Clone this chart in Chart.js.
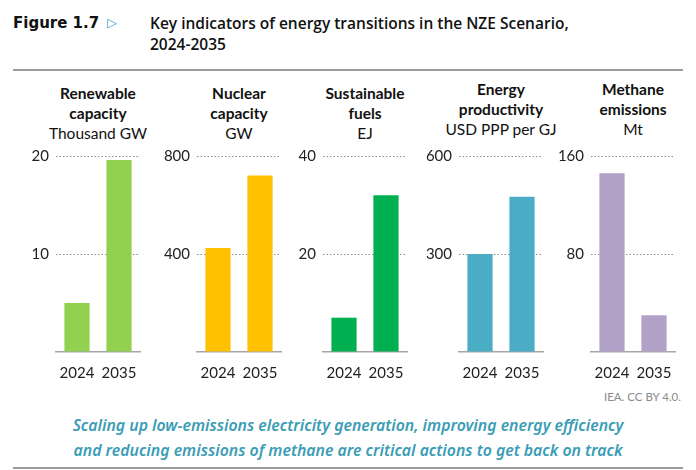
<!DOCTYPE html>
<html>
<head>
<meta charset="utf-8">
<script src="https://cdn.jsdelivr.net/npm/chart.js@4"></script>
<style>
  html, body { margin: 0; padding: 0; background: #fff; }
  body { width: 696px; height: 470px; position: relative; overflow: hidden; font-family: Lato, "Open Sans", sans-serif; }
  .fig { position: absolute; left: 13px; top: 14px; font-family: "DejaVu Sans", sans-serif; font-weight: bold; font-size: 15px; color: #111; }
  .tri { position: absolute; left: 107px; top: 15px; font-size: 13px; color: #3aa0c0; font-family: "DejaVu Sans", sans-serif; }
  .head { position: absolute; left: 150px; top: 13px; font-family: "Open Sans", sans-serif; font-weight: 600; font-size: 15.5px; line-height: 21px; color: #111; }
  .rule { position: absolute; left: 13px; width: 670px; height: 2px; background: #9a9a9a; }
  .ptitle { position: absolute; width: 150px; text-align: center; font-size: 15.5px; line-height: 20px; color: #111; }
  .ptitle b { font-weight: bold; }
  canvas { position: absolute; }
  .src { position: absolute; right: 15px; top: 390px; font-size: 11.5px; color: #8a8a8a; }
  .note { position: absolute; left: 0; width: 696px; top: 413px; text-align: center; font-family: "Noto Sans", sans-serif; font-style: italic; font-weight: 600; font-size: 15.8px; line-height: 25px; color: #3a9db5; }
</style>
</head>
<body>
<div class="fig">Figure 1.7</div>
<div class="tri">&#9655;</div>
<div class="head">Key indicators of energy transitions in the NZE Scenario,<br>2024-2035</div>
<div class="rule" style="top:69px"></div>

<div class="src">IEA. CC BY 4.0.</div>
<div class="note">Scaling up low-emissions electricity generation, improving energy efficiency<br>and reducing emissions of methane are critical actions to get back on track</div>
<div class="rule" style="top:467px"></div>

<script>
// data
const years = ['2024', '2035'];
const panelNames = [['Renewable', 'capacity'], ['Nuclear', 'capacity'], ['Sustainable', 'fuels'], ['Energy', 'productivity'], ['Methane', 'emissions']];
const panelUnits = ['Thousand GW', 'GW', 'EJ', 'USD PPP per GJ', 'Mt'];
const renewableCapacity = [5, 19.6];
const nuclearCapacity = [425, 720];
const sustainableFuels = [7, 32];
const energyProductivity = [300, 475];
const methaneEmissions = [146, 30];
const axisMax = [20, 800, 40, 600, 160];
const barColors = ['#92d050', '#ffc000', '#00b050', '#4bacc6', '#b3a2c7'];

const seriesList = [renewableCapacity, nuclearCapacity, sustainableFuels, energyProductivity, methaneEmissions];
// layout of each small chart
const areaLeft = [56, 197, 323, 459, 591];
const titleTop = [83, 83, 83, 79, 79];
const yAxisW = 45;
const areaW = 84;

seriesList.forEach(function(values, i) {
  const left = areaLeft[i] - yAxisW;

  const t = document.createElement('div');
  t.className = 'ptitle';
  t.style.left = (areaLeft[i] + areaW / 2 - 75) + 'px';
  t.style.top = titleTop[i] + 'px';
  t.innerHTML = '<b>' + panelNames[i][0] + '</b><br><b>' + panelNames[i][1] + '</b><br>' + panelUnits[i];
  document.body.appendChild(t);

  const cv = document.createElement('canvas');
  cv.style.left = left + 'px';
  cv.style.top = '140px';
  cv.style.width = (yAxisW + areaW + 4) + 'px';
  cv.style.height = '245px';
  cv.width = yAxisW + areaW + 4;
  cv.height = 245;
  document.body.appendChild(cv);

  new Chart(cv.getContext('2d'), {
    type: 'bar',
    data: {
      labels: years,
      datasets: [{
        data: values,
        backgroundColor: barColors[i],
        barPercentage: 0.6,
        categoryPercentage: 1
      }]
    },
    options: {
      responsive: false,
      animation: false,
      layout: { padding: { top: 15, right: 4, left: 0, bottom: 0 } },
      plugins: { legend: { display: false }, tooltip: { enabled: false } },
      scales: {
        x: {
          grid: { display: false },
          border: { color: '#a6a6a6', width: 1.5 },
          ticks: { color: '#222', font: { family: 'Lato', size: 15 }, padding: 4 },
          afterFit: function(s) { s.height = 33; }
        },
        y: {
          min: 0,
          max: axisMax[i],
          grid: {
            drawTicks: false,
            color: function(c) { return c.tick.value === 0 ? 'rgba(0,0,0,0)' : '#8c8c8c'; },
            lineWidth: 1
          },
          border: { display: false, dash: [1.5, 2] },
          ticks: {
            stepSize: axisMax[i] / 2,
            padding: 7,
            color: '#222',
            font: { family: 'Lato', size: 15 },
            callback: function(v) { return v === 0 ? '' : v; }
          },
          afterFit: function(s) { s.width = yAxisW; }
        }
      }
    }
  });
});
</script>
</body>
</html>
